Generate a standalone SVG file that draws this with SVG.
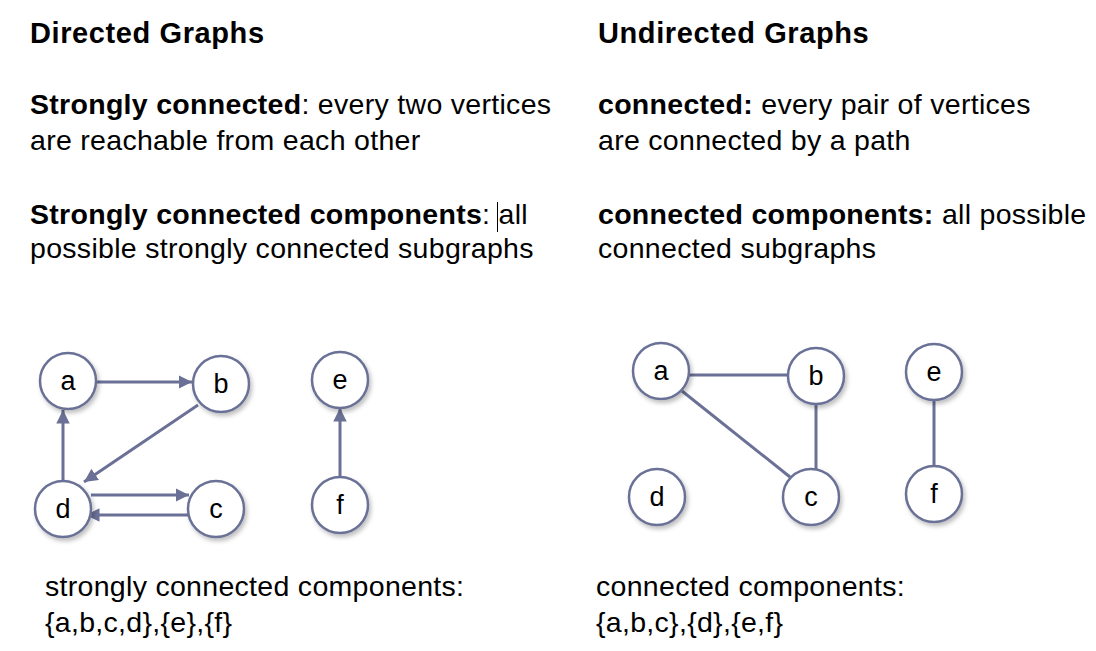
<svg xmlns="http://www.w3.org/2000/svg" width="1096" height="651" viewBox="0 0 1096 651">
<defs>
<style>
text{font-family:"Liberation Sans",Arial,sans-serif;fill:#000}
.t{font-size:28.5px;letter-spacing:0.3px}
.h{font-size:29px;font-weight:bold;letter-spacing:0.6px}
.b{font-weight:bold}
.n circle{fill:#fff;stroke:#6b7196;stroke-width:2.5}
.n text{font-size:27px;text-anchor:middle}
.e line{stroke:#6b7196;stroke-width:3}
</style>
<marker id="ar" viewBox="0 0 10 10" refX="10" refY="5" markerWidth="4.5" markerHeight="4.5" orient="auto"><path d="M0,0 L10,5 L0,10 z" fill="#6b7196"/></marker>
<filter id="sh" x="-30%" y="-30%" width="160%" height="160%"><feDropShadow dx="2" dy="3" stdDeviation="2" flood-color="#000" flood-opacity="0.25"/></filter>
</defs>
<text class="h" x="30" y="43">Directed Graphs</text>
<text class="h" x="598" y="43">Undirected Graphs</text>
<text class="t" x="30" y="114"><tspan class="b">Strongly connected</tspan>: every two vertices</text>
<text class="t" x="30" y="150">are reachable from each other</text>
<text class="t" x="30" y="224"><tspan class="b">Strongly connected components</tspan>: all</text>
<line x1="497.5" y1="202" x2="497.5" y2="232" stroke="#000" stroke-width="1"/>
<text class="t" x="30" y="258">possible strongly connected subgraphs</text>
<text class="t" x="598" y="114"><tspan class="b">connected:</tspan> every pair of vertices</text>
<text class="t" x="598" y="150">are connected by a path</text>
<text class="t" x="598" y="224"><tspan class="b">connected components:</tspan> all possible</text>
<text class="t" x="598" y="258">connected subgraphs</text>
<text class="t" x="45" y="596">strongly connected components:</text>
<text class="t" x="45" y="632">{a,b,c,d},{e},{f}</text>
<text class="t" x="596" y="596">connected components:</text>
<text class="t" x="596" y="632">{a,b,c},{d},{e,f}</text>
<g id="connectors" class="e">
<line x1="96" y1="382" x2="192" y2="382" marker-end="url(#ar)"/>
<line x1="198" y1="405" x2="84" y2="482" marker-end="url(#ar)"/>
<line x1="63" y1="480" x2="63" y2="410" marker-end="url(#ar)"/>
<line x1="91" y1="495" x2="189" y2="495" marker-end="url(#ar)"/>
<line x1="189" y1="515" x2="86" y2="515" marker-end="url(#ar)"/>
<line x1="340" y1="477" x2="340" y2="408" marker-end="url(#ar)"/>
<line x1="689" y1="375" x2="788" y2="375"/>
<line x1="682" y1="391" x2="790" y2="477"/>
<line x1="816" y1="404" x2="816" y2="469"/>
<line x1="934" y1="400" x2="934" y2="466"/>
</g>
<g id="a1" class="n"><circle cx="68" cy="381" r="28" filter="url(#sh)"/><text x="68" y="390">a</text></g>
<g id="b1" class="n"><circle cx="221" cy="384" r="28" filter="url(#sh)"/><text x="221" y="393">b</text></g>
<g id="d1" class="n"><circle cx="63" cy="509" r="28" filter="url(#sh)"/><text x="63" y="518">d</text></g>
<g id="c1" class="n"><circle cx="216" cy="509" r="28" filter="url(#sh)"/><text x="216" y="518">c</text></g>
<g id="e1" class="n"><circle cx="340" cy="380" r="28" filter="url(#sh)"/><text x="340" y="389">e</text></g>
<g id="f1" class="n"><circle cx="340" cy="505" r="28" filter="url(#sh)"/><text x="340" y="514">f</text></g>
<g id="a2" class="n"><circle cx="661" cy="371" r="28" filter="url(#sh)"/><text x="661" y="380">a</text></g>
<g id="b2" class="n"><circle cx="816" cy="376" r="28" filter="url(#sh)"/><text x="816" y="385">b</text></g>
<g id="c2" class="n"><circle cx="811" cy="497" r="28" filter="url(#sh)"/><text x="811" y="506">c</text></g>
<g id="d2" class="n"><circle cx="657" cy="497" r="28" filter="url(#sh)"/><text x="657" y="506">d</text></g>
<g id="e2" class="n"><circle cx="934" cy="372" r="28" filter="url(#sh)"/><text x="934" y="381">e</text></g>
<g id="f2" class="n"><circle cx="934" cy="494" r="28" filter="url(#sh)"/><text x="934" y="503">f</text></g>
</svg>
